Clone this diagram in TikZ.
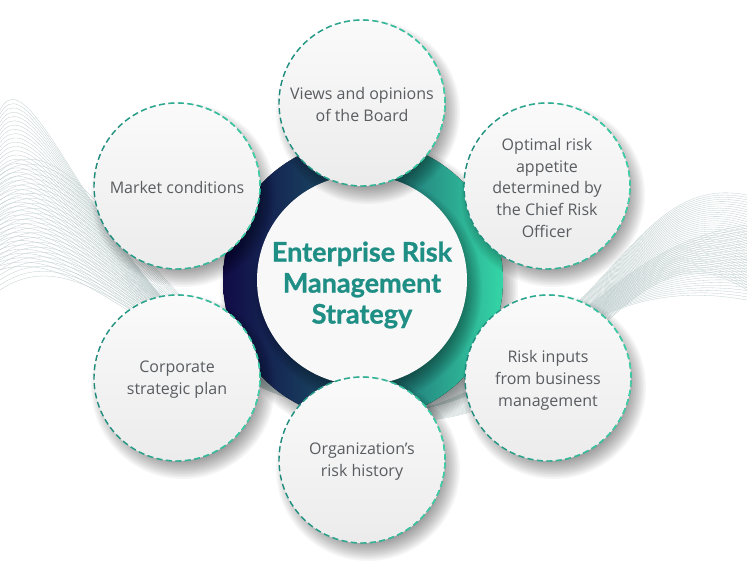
\documentclass[tikz,border=0pt]{standalone}
\usepackage{fontspec}
\setmainfont{Open Sans}
\newfontfamily\titlefont[BoldFeatures={FakeBold=0.9}]{Lato}
\usetikzlibrary{calc,fadings}
\definecolor{txtgray}{HTML}{595C60}
\definecolor{titleteal}{HTML}{1F8F86}
\definecolor{dashdark}{HTML}{1E8A7C}
\definecolor{dashbright}{HTML}{3ED8AB}
\definecolor{navy}{HTML}{110B46}
\definecolor{midteal}{HTML}{1C5A6A}
\definecolor{brightteal}{HTML}{34D6A7}
\definecolor{wavegray}{HTML}{C0CECE}
\definecolor{satfill}{HTML}{F3F3F3}
\tikzset{
  sat/.style={circle, minimum size=166pt, inner sep=0pt,
    top color=white!60!satfill, bottom color=satfill!97!black,
    draw=dashdark, line width=1.4pt, dash pattern=on 6pt off 3.5pt,
    postaction={draw=dashbright, line width=1.4pt, dash pattern=on 6pt off 3.5pt, path fading=west}},
  sattext/.style={align=center, font=\fontsize{16}{22}\selectfont, text=txtgray, inner sep=0pt},
  wave/.style={draw=wavegray, line width=0.3pt},
}
\newcommand{\softshadow}[3]{%
  \foreach \k in {0,...,11}{%
    \fill[black, opacity=0.035] ($(#1,#2)+(6,9)$) circle[radius={(#3+9-1.6*\k)*1pt}];
  }%
}
\begin{document}
\begin{tikzpicture}[x=1pt,y=-1pt]
\useasboundingbox (0,0) rectangle (747,580);
\fill[white] (0,0) rectangle (747,580);
% background waves
\foreach \i in {0,...,39}{
  \pgfmathsetmacro\t{\i/39}
  \draw[wave] (0,{110+160*\t}) .. controls ({40+50*\t},{30+210*\t}) and ({140+50*\t},{430-30*\t}) .. (380,{400+20*\t})
     .. controls ({610-20*\t},{370+70*\t}) and (620,{170+40*\t}) .. (747,{195+95*\t});
}
\foreach \i in {0,...,24}{
  \pgfmathsetmacro\t{\i/24}
  \draw[wave] (0,{170+120*\t}) .. controls ({90},{100+130*\t}) and ({170},{390-10*\t}) .. (380,{410+10*\t})
     .. controls ({540},{420-30*\t}) and (580,{250+20*\t}) .. (747,{225+75*\t});
}
% ring
\coordinate (c) at (362,280);
\softshadow{363}{280}{140}
\fill[left color=navy, right color=brightteal, middle color=midteal] (363,280) circle[radius=140pt];
% center
\softshadow{362}{280}{105}
\node[circle, minimum size=210pt, inner sep=0pt, fill=white!40!satfill] (center) at (c) {};
\node[align=center, font=\titlefont\bfseries\fontsize{27}{31}\selectfont, text=titleteal, yshift=-5pt] (title) at (center)
  {Enterprise Risk\\Management\\Strategy};
% satellites
\softshadow{362}{103}{83}
\node[sat] (board) at (362,103) {};
\node[sattext, yshift=-2pt] (board-t) at (board) {Views and opinions\\of the Board};
\softshadow{177}{186}{83}
\node[sat] (market) at (177,186) {};
\node[sattext, yshift=-2pt] (market-t) at (market) {Market conditions};
\softshadow{547}{186}{83}
\node[sat] (appetite) at (547,186) {};
\node[sattext, yshift=-2pt] (appetite-t) at (appetite) {Optimal risk\\appetite\\determined by\\the Chief Risk\\Officer};
\softshadow{177}{378}{83}
\node[sat] (plan) at (177,378) {};
\node[sattext, yshift=-2pt] (plan-t) at (plan) {Corporate\\strategic plan};
\softshadow{548}{378}{83}
\node[sat] (inputs) at (548,378) {};
\node[sattext, yshift=-2pt] (inputs-t) at (inputs) {Risk inputs\\from business\\management};
\softshadow{362}{460}{83}
\node[sat] (history) at (362,460) {};
\node[sattext, yshift=-2pt] (history-t) at (history) {Organization’s\\risk history};
\end{tikzpicture}
\end{document}
